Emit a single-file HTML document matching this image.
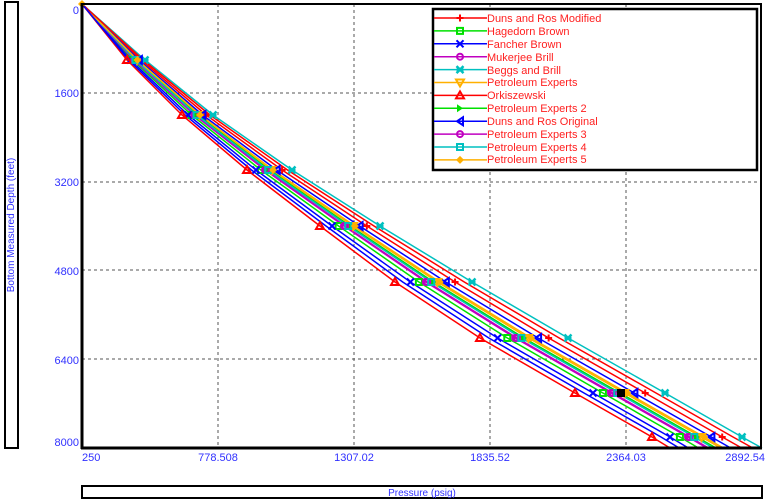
<!DOCTYPE html>
<html><head><meta charset="utf-8"><style>
body{margin:0;background:#fff;width:768px;height:502px;overflow:hidden;font-family:"Liberation Sans",sans-serif}
svg{display:block}
</style></head><body>
<svg id="s" width="768" height="502" xmlns="http://www.w3.org/2000/svg" font-family="Liberation Sans, sans-serif">
<rect x="5" y="2" width="13" height="446" fill="#fff" stroke="#000" stroke-width="2"/>
<text transform="translate(14,225) rotate(-90)" text-anchor="middle" font-size="10" fill="#3030ff">Bottom Measured Depth  (feet)</text>
<rect x="82" y="486" width="680" height="12" fill="#fff" stroke="#000" stroke-width="2"/>
<text x="422" y="496" text-anchor="middle" font-size="10" fill="#3030ff">Pressure  (psig)</text>
<g stroke="#555" stroke-dasharray="3,3" stroke-width="1">
<line x1="218" y1="4" x2="218" y2="448"/><line x1="354" y1="4" x2="354" y2="448"/><line x1="490" y1="4" x2="490" y2="448"/><line x1="626" y1="4" x2="626" y2="448"/>
<line x1="82" y1="93" x2="762" y2="93"/><line x1="82" y1="182" x2="762" y2="182"/><line x1="82" y1="270" x2="762" y2="270"/><line x1="82" y1="359" x2="762" y2="359"/>
</g>
<g id="series"></g>
<rect x="82" y="4" width="679" height="444" fill="none" stroke="#000" stroke-width="2"/>
<line x1="82" y1="3" x2="82" y2="449" stroke="#000" stroke-width="3"/>
<line x1="81" y1="448" x2="762" y2="448" stroke="#000" stroke-width="3"/>
<g font-size="11" fill="#3030ff" text-anchor="end">
<text x="79" y="14">0</text><text x="79" y="97">1600</text><text x="79" y="186">3200</text><text x="79" y="275">4800</text><text x="79" y="364">6400</text><text x="79" y="446">8000</text>
</g>
<g font-size="11" fill="#3030ff">
<text x="82" y="461">250</text><text x="218" y="461" text-anchor="middle">778.508</text><text x="354" y="461" text-anchor="middle">1307.02</text><text x="490" y="461" text-anchor="middle">1835.52</text><text x="626" y="461" text-anchor="middle">2364.03</text><text x="765" y="461" text-anchor="end">2892.54</text>
</g>
<rect x="433" y="9" width="324" height="161" fill="#fff" stroke="#000" stroke-width="2.5"/>
<g id="leg"></g>
<g font-size="11" fill="#ff2020">
<text x="487" y="22">Duns and Ros Modified</text>
<text x="487" y="35">Hagedorn Brown</text>
<text x="487" y="48">Fancher Brown</text>
<text x="487" y="61">Mukerjee Brill</text>
<text x="487" y="74">Beggs and Brill</text>
<text x="487" y="86">Petroleum Experts</text>
<text x="487" y="99">Orkiszewski</text>
<text x="487" y="112">Petroleum Experts 2</text>
<text x="487" y="125">Duns and Ros Original</text>
<text x="487" y="138">Petroleum Experts 3</text>
<text x="487" y="151">Petroleum Experts 4</text>
<text x="487" y="163">Petroleum Experts 5</text>
</g>
</svg>
<script>
var NS="http://www.w3.org/2000/svg";
var Y=[4,60,115,170,226,282,338,393,437,448];
var XO=[82,127,182,247,320,395,480,575,652,670];
var XB=[82,145,213,292,380,472,568,665,742,762];
var S=[
["#ff0000",0.78,"plus"],["#00e000",0.31,"sq"],["#0000ff",0.2,"x"],["#c000c0",0.4,"circ"],
["#00c0c0",1,"star"],["#ffb000",0.55,"tri"],["#ff0000",0,"triup"],["#00e000",0.5,"right"],
["#0000ff",0.66,"left"],["#c000c0",0.42,"circ"],["#00c0c0",0.47,"sq"],["#ffb000",0.58,"dia"],
["#ff0000",0.9,null],["#0000ff",0.1,null]];
function el(t,a,p){var e=document.createElementNS(NS,t);for(var k in a)e.setAttribute(k,a[k]);p.appendChild(e);return e;}
function marker(g,type,c,x,y){
 if(!type)return;
 var s=3.5;
 if(type=="plus"){el("path",{d:"M"+(x-s)+" "+y+"h"+2*s+"M"+x+" "+(y-s)+"v"+2*s,stroke:c,"stroke-width":2,fill:"none"},g);}
 else if(type=="x"){el("path",{d:"M"+(x-s)+" "+(y-s)+"l"+2*s+" "+2*s+"M"+(x+s)+" "+(y-s)+"l-"+2*s+" "+2*s,stroke:c,"stroke-width":2,fill:"none"},g);}
 else if(type=="star"){el("path",{d:"M"+(x-s)+" "+(y-s)+"l"+2*s+" "+2*s+"M"+(x+s)+" "+(y-s)+"l-"+2*s+" "+2*s+"M"+(x-s)+" "+y+"h"+2*s,stroke:c,"stroke-width":2.5,fill:"none"},g);}
 else if(type=="sq"){el("rect",{x:x-3,y:y-3,width:6,height:6,fill:"none",stroke:c,"stroke-width":2},g);}
 else if(type=="circ"){el("circle",{cx:x,cy:y,r:3,fill:"none",stroke:c,"stroke-width":2},g);}
 else if(type=="dia"){el("path",{d:"M"+x+" "+(y-4)+"l4 4l-4 4l-4 -4z",fill:c},g);}
 else if(type=="tri"){el("path",{d:"M"+(x-4)+" "+(y-3)+"h8l-4 7z",fill:"none",stroke:c,"stroke-width":2},g);}
 else if(type=="triup"){el("path",{d:"M"+(x-4)+" "+(y+3)+"h8l-4 -7z",fill:"none",stroke:c,"stroke-width":2},g);}
 else if(type=="right"){el("path",{d:"M"+(x-3)+" "+(y-4)+"v8l6 -4z",fill:c},g);}
 else if(type=="left"){el("path",{d:"M"+(x+3)+" "+(y-4)+"v8l-6 -4z",fill:"none",stroke:c,"stroke-width":2},g);}
}
var g=document.getElementById("series");
S.forEach(function(s){
 var pts=[];for(var i=0;i<Y.length;i++){pts.push((XO[i]+s[1]*(XB[i]-XO[i])).toFixed(1)+","+Y[i]);}
 el("polyline",{points:pts.join(" "),fill:"none",stroke:s[0],"stroke-width":1.5},g);
});
S.forEach(function(s){for(var i=1;i<Y.length-1;i++){marker(g,s[2],s[0],XO[i]+s[1]*(XB[i]-XO[i]),Y[i]);}});
el("rect",{x:617,y:389,width:8,height:8,fill:"#000"},g);
marker(g,"dia","#ffb000",82,4);
var lg=document.getElementById("leg");
for(var i=0;i<12;i++){var y=18+i*12.9;var s=S[i];el("line",{x1:434,y1:y,x2:487,y2:y,stroke:s[0],"stroke-width":1.5},lg);marker(lg,s[2],s[0],460,y);}
</script>
</body></html>
